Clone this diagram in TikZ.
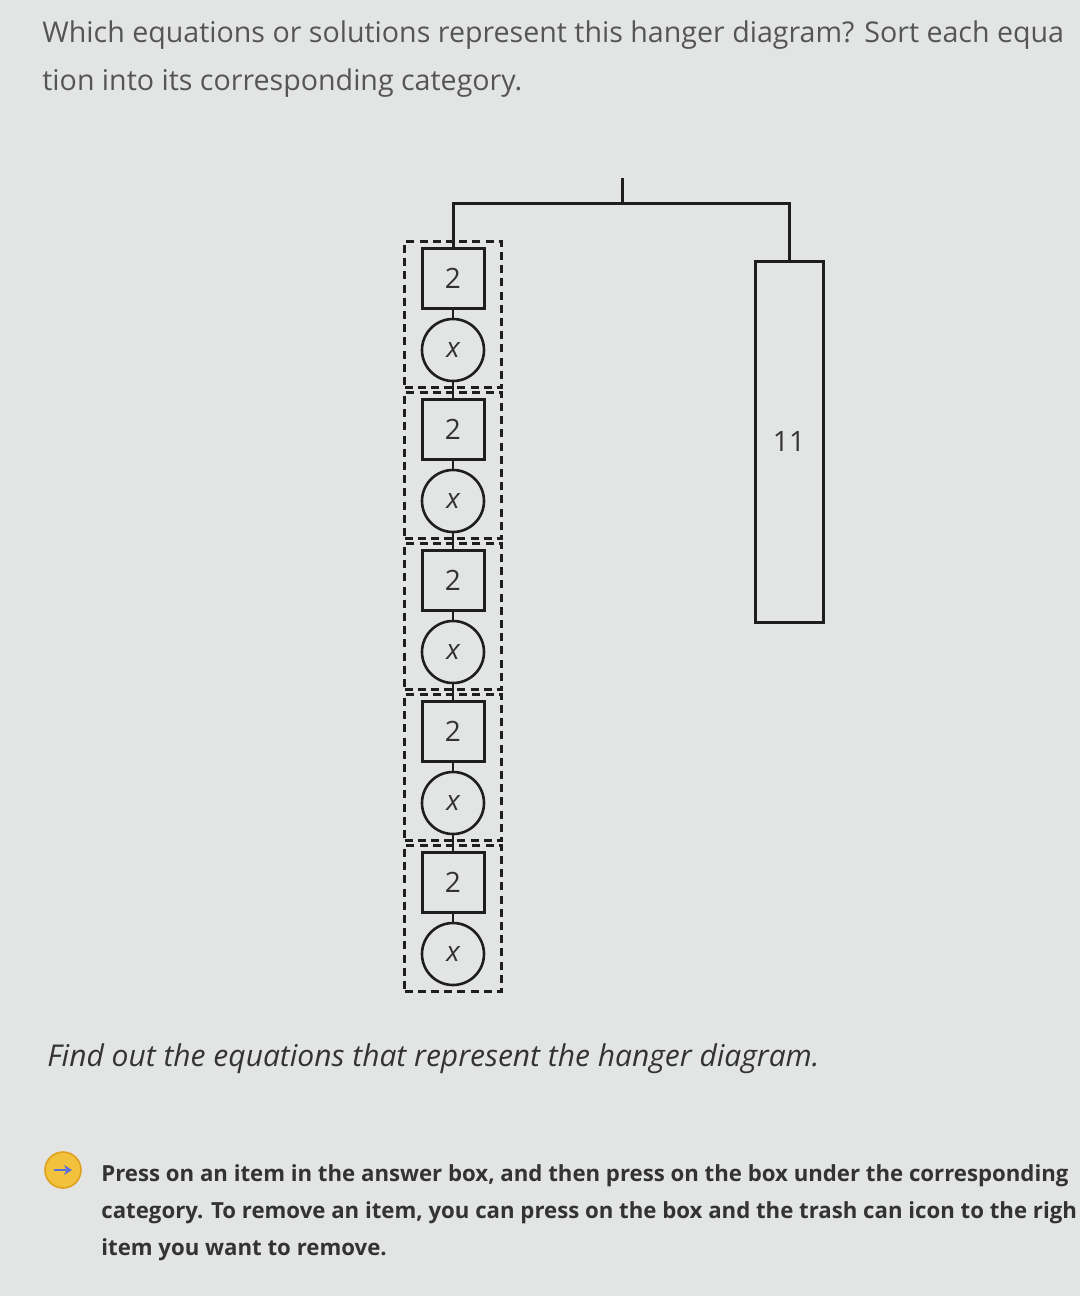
\documentclass[tikz,border=0pt]{standalone}
\usepackage{fontspec}
\setmainfont{Open Sans}
\usetikzlibrary{fit,arrows.meta}
\definecolor{bg}{HTML}{E3E5E4}
\definecolor{linec}{HTML}{1E1E1E}
\definecolor{qgray}{HTML}{555555}
\definecolor{bgray}{HTML}{333333}
\definecolor{iconY}{HTML}{F2C23C}
\definecolor{iconO}{HTML}{E0A020}
\definecolor{arrowblue}{HTML}{5A6FD8}
\begin{document}
\begin{tikzpicture}[x=0.5pt,y=-0.5pt,
  wbox/.style={draw=linec, line width=1.5pt, minimum width=31pt, minimum height=30pt, inner sep=0pt, text=bgray, font=\fontsize{14}{14}\selectfont},
  wball/.style={circle, draw=linec, line width=1.3pt, minimum size=31pt, inner sep=0pt, text=bgray, font=\fontsize{14}{14}\selectfont\itshape},
  grp/.style={draw=linec, dash pattern=on 4pt off 2.6pt, line width=1.8pt, inner xsep=8pt, inner ysep=2.5pt},
  hang/.style={draw=linec, line width=1.5pt},
  link/.style={draw=linec, line width=1pt},
  qtext/.style={anchor=base west, inner sep=0pt, text=qgray, font=\fontsize{14.3}{18}\selectfont},
  ftext/.style={anchor=base west, inner sep=0pt, text=bgray, font=\fontsize{15}{18}\selectfont\itshape},
  ptext/.style={anchor=base west, inner sep=0pt, text=bgray, font=\fontsize{11.1}{14}\selectfont\bfseries}
]
\fill[bg] (0,0) rectangle (1080,1296);
\useasboundingbox (0,0) rectangle (1080,1296);
\clip (0,0) rectangle (1080,1296);

% question
\node[qtext] (q1) at (42,42) {Which equations or solutions represent this hanger diagram? Sort each equa};
\node[qtext] (q2) at (42,90) {tion into its corresponding category.};

% hanger weights (left)
\node[wbox]  (b1) at (453,278) {2};
\node[wball] (c1) at (453,350) {x};
\node[wbox]  (b2) at (453,429) {2};
\node[wball] (c2) at (453,501) {x};
\node[wbox]  (b3) at (453,580) {2};
\node[wball] (c3) at (453,652) {x};
\node[wbox]  (b4) at (453,731) {2};
\node[wball] (c4) at (453,803) {x};
\node[wbox]  (b5) at (453,882) {2};
\node[wball] (c5) at (453,954) {x};

\draw[link] (b1) -- (c1);
\draw[link] (c1) -- (b2);
\draw[link] (b2) -- (c2);
\draw[link] (c2) -- (b3);
\draw[link] (b3) -- (c3);
\draw[link] (c3) -- (b4);
\draw[link] (b4) -- (c4);
\draw[link] (c4) -- (b5);
\draw[link] (b5) -- (c5);

\node[grp, fit=(b1)(c1)] (g1) {};
\node[grp, fit=(b2)(c2)] (g2) {};
\node[grp, fit=(b3)(c3)] (g3) {};
\node[grp, fit=(b4)(c4)] (g4) {};
\node[grp, fit=(b5)(c5)] (g5) {};

% right weight
\node[draw=linec, line width=1.5pt, minimum width=34pt, minimum height=180.5pt, inner sep=0pt, text=bgray, font=\fontsize{14}{14}\selectfont] (w) at (789,441.5) {11};

% hanger bar
\coordinate (hook) at (622,178);
\coordinate (barM) at (622,203);
\coordinate (barL) at (453,203);
\coordinate (barR) at (789,203);
\draw[hang] (hook) -- (barM);
\draw[hang] (b1.north) -- (barL) -- (barR) -- (w.north);

% instruction
\node[ftext] (find) at (47,1066) {Find out the equations that represent the hanger diagram.};

\node[circle, fill=iconY, draw=iconO, line width=0.8pt, minimum size=18pt, inner sep=0pt] (icon) at (63,1170) {};
\draw[-{Stealth[length=4pt,width=5pt]}, line width=1.4pt, arrowblue] ([xshift=-4.5pt]icon.center) -- ([xshift=4.5pt]icon.center);

\node[ptext] (p1) at (101,1181) {Press on an item in the answer box, and then press on the box under the corresponding};
\node[ptext] (p2) at (101,1218) {category. To remove an item, you can press on the box and the trash can icon to the righ};
\node[ptext] (p3) at (101,1255) {item you want to remove.};
\end{tikzpicture}
\end{document}
